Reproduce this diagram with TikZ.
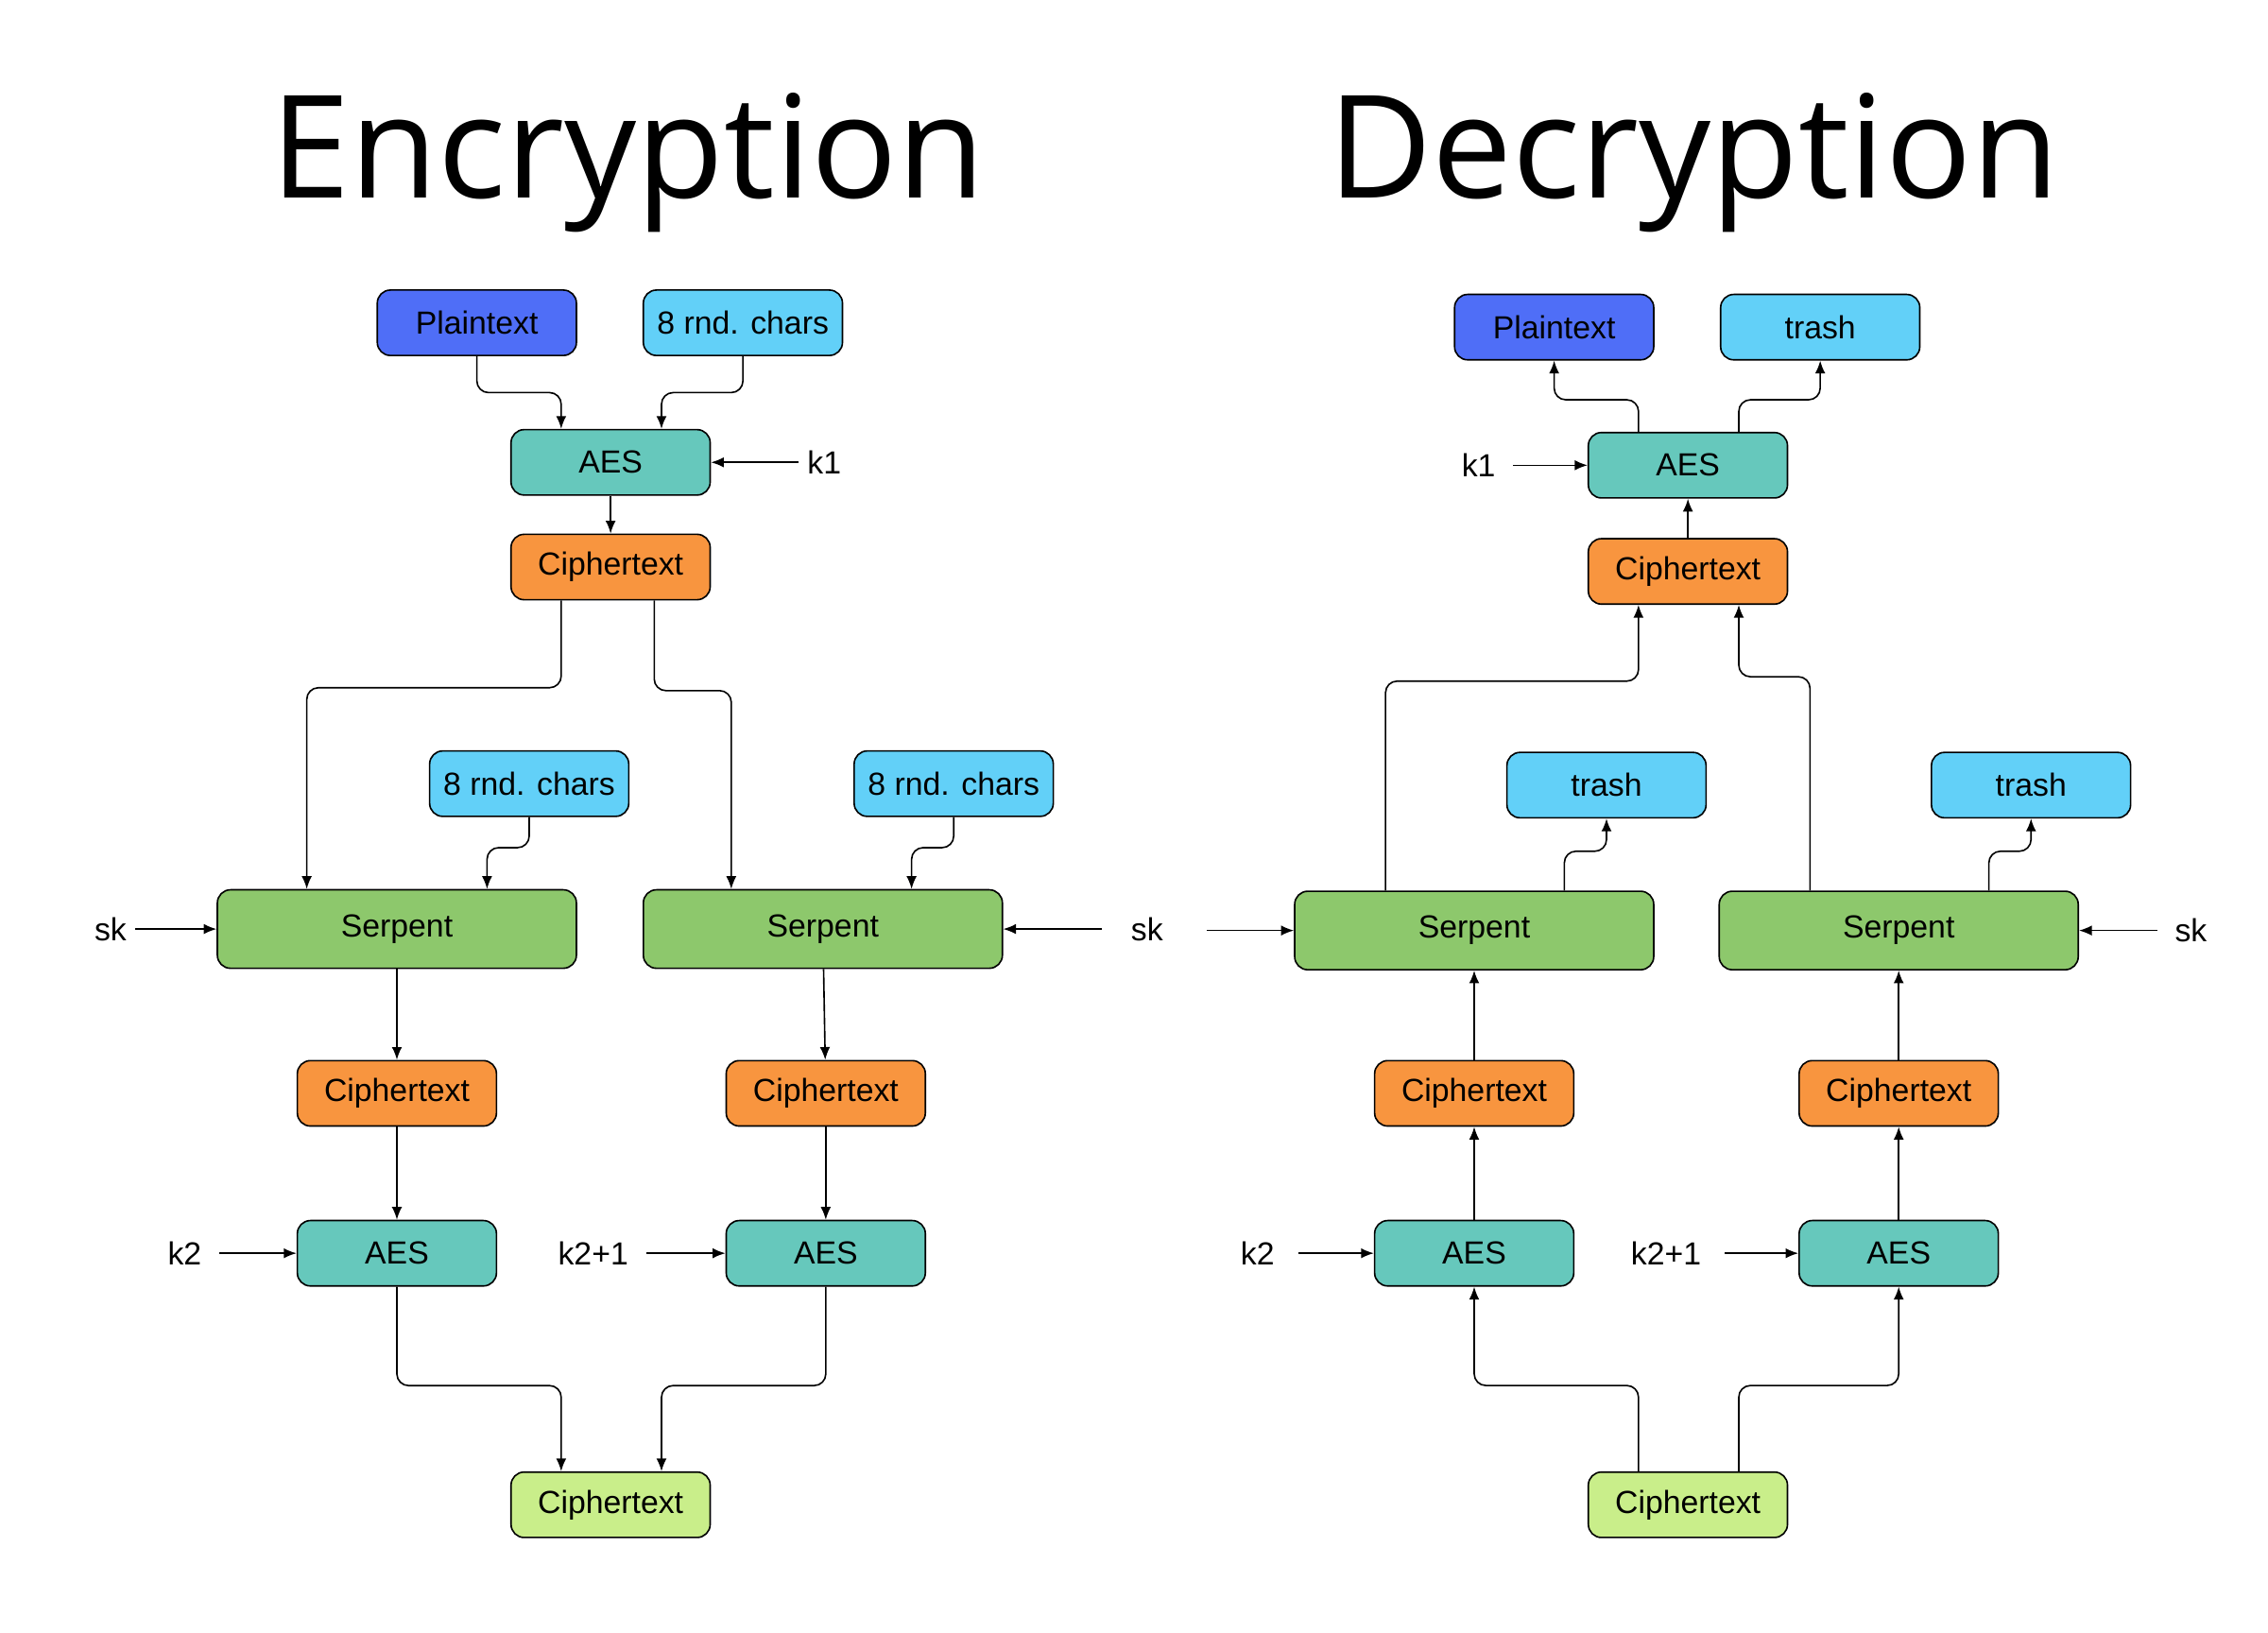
\documentclass[tikz,border=0pt]{standalone}
\usepackage{fontspec}
\setmainfont{Liberation Sans}
\newfontfamily\titlefont{Open Sans}
\usetikzlibrary{calc,arrows.meta}
\definecolor{cblue}{HTML}{4F6EF7}
\definecolor{clblue}{HTML}{62D0F8}
\definecolor{cteal}{HTML}{66C8BC}
\definecolor{corange}{HTML}{F8953F}
\definecolor{cgreen}{HTML}{8DC86C}
\definecolor{clgreen}{HTML}{C9EE8A}
\begin{document}
\begin{tikzpicture}[x=0.02cm,y=-0.02cm,
  box/.style={draw,rounded corners=0.18cm,line width=0.6pt,minimum width=2.74cm,minimum height=0.9cm,font=\fontsize{12.5}{14}\selectfont,inner sep=0},
  serp/.style={box,minimum width=4.94cm,minimum height=1.08cm,fill=cgreen},
  lab/.style={font=\fontsize{12.5}{14}\selectfont},
  title/.style={font=\titlefont\fontsize{56}{60}\selectfont},
  conn/.style={line width=0.6pt,rounded corners=0.16cm,-{Latex[length=5pt,width=4pt]}}]
\useasboundingbox (0,0) rectangle (1560,1123);
% ---------- Encryption
\node[title] (te) at (432,112) {Encryption};
\node[box,fill=cblue] (ep) at (328,222) {Plaintext};
\node[box,fill=clblue] (er) at (511,222) {8 rnd. chars};
\node[box,fill=cteal] (ea) at (420,318) {AES};
\node[lab] (ek1) at (567,318) {k1};
\node[box,fill=corange] (ec) at (420,390) {Ciphertext};
\node[box,fill=clblue] (erl) at (364,539) {8 rnd. chars};
\node[box,fill=clblue] (err) at (656,539) {8 rnd. chars};
\node[serp] (esl) at (273,639) {Serpent};
\node[serp] (esr) at (566,639) {Serpent};
\node[lab] (eskl) at (76,639) {sk};
\node[lab] (eskr) at (789,639) {sk};
\node[box,fill=corange] (ecl) at (273,752) {Ciphertext};
\node[box,fill=corange] (ecr) at (568,752) {Ciphertext};
\node[box,fill=cteal] (eal) at (273,862) {AES};
\node[box,fill=cteal] (ear) at (568,862) {AES};
\node[lab] (ek2) at (127,862) {k2};
\node[lab] (ek21) at (408,862) {k2+1};
\node[box,fill=clgreen] (ef) at (420,1035) {Ciphertext};
\draw[conn] (ep.south) -- ++(0,25) -| ($(ea.north)+(-34,0)$);
\draw[conn] (er.south) -- ++(0,25) -| ($(ea.north)+(35,0)$);
\draw[conn] (ek1.west) -- (ea.east);
\draw[conn] (ea) -- (ec);
\draw[conn] ($(ec.south)+(-34,0)$) -- ++(0,60) -| ($(esl.north)+(-62,0)$);
\draw[conn] ($(ec.south)+(30,0)$) -- ++(0,62) -| ($(esr.north)+(-63,0)$);
\draw[conn] (erl.south) -- ++(0,21) -| ($(esl.north)+(62,0)$);
\draw[conn] (err.south) -- ++(0,21) -| ($(esr.north)+(61,0)$);
\draw[conn] (eskl.east) -- (esl.west);
\draw[conn] ($(eskr.west)+(-14,0)$) -- (esr.east);
\draw[conn] (esl) -- (ecl);
\draw[conn] (esr) -- (ecr);
\draw[conn] (ecl) -- (eal);
\draw[conn] (ecr) -- (ear);
\draw[conn] ($(ek2.east)+(6,0)$) -- (eal.west);
\draw[conn] ($(ek21.east)+(6,0)$) -- (ear.west);
\draw[conn] (eal.south) -- ++(0,68) -| ($(ef.north)+(-34,0)$);
\draw[conn] (ear.south) -- ++(0,68) -| ($(ef.north)+(35,0)$);
% ---------- Decryption
\node[title] (td) at (1165,112) {Decryption};
\node[box,fill=cblue] (dp) at (1069,225) {Plaintext};
\node[box,fill=clblue] (dt) at (1252,225) {trash};
\node[box,fill=cteal] (da) at (1161,320) {AES};
\node[lab] (dk1) at (1017,320) {k1};
\node[box,fill=corange] (dc) at (1161,393) {Ciphertext};
\node[box,fill=clblue] (dtl) at (1105,540) {trash};
\node[box,fill=clblue] (dtr) at (1397,540) {trash};
\node[serp] (dsl) at (1014,640) {Serpent};
\node[serp] (dsr) at (1306,640) {Serpent};
\node[lab] (dskr) at (1507,640) {sk};
\coordinate (dskl) at (830,640);
\node[box,fill=corange] (dcl) at (1014,752) {Ciphertext};
\node[box,fill=corange] (dcr) at (1306,752) {Ciphertext};
\node[box,fill=cteal] (dal) at (1014,862) {AES};
\node[box,fill=cteal] (dar) at (1306,862) {AES};
\node[lab] (dk2) at (865,862) {k2};
\node[lab] (dk21) at (1146,862) {k2+1};
\node[box,fill=clgreen] (df) at (1161,1035) {Ciphertext};
\draw[conn] ($(df.north)+(-34,0)$) -- ++(0,-59) -| (dal.south);
\draw[conn] ($(df.north)+(35,0)$) -- ++(0,-59) -| (dar.south);
\draw[conn] (dal) -- (dcl);
\draw[conn] (dar) -- (dcr);
\draw[conn] (dcl) -- (dsl);
\draw[conn] (dcr) -- (dsr);
\draw[conn] ($(dk2.east)+(10,0)$) -- (dal.west);
\draw[conn] ($(dk21.east)+(10,0)$) -- (dar.west);
\draw[conn] (dskl) -- (dsl.west);
\draw[conn] ($(dskr.west)+(-6,0)$) -- (dsr.east);
\draw[conn] ($(dsl.north)+(-61,0)$) -- ++(0,-144) -| ($(dc.south)+(-34,0)$);
\draw[conn] ($(dsr.north)+(-61,0)$) -- ++(0,-147) -| ($(dc.south)+(35,0)$);
\draw[conn] ($(dsl.north)+(62,0)$) -- ++(0,-27) -| (dtl.south);
\draw[conn] ($(dsr.north)+(62,0)$) -- ++(0,-27) -| (dtr.south);
\draw[conn] (dc) -- (da);
\draw[conn] ($(dk1.east)+(6,0)$) -- (da.west);
\draw[conn] ($(da.north)+(-34,0)$) -- ++(0,-22) -| (dp.south);
\draw[conn] ($(da.north)+(35,0)$) -- ++(0,-22) -| (dt.south);
\end{tikzpicture}
\end{document}
